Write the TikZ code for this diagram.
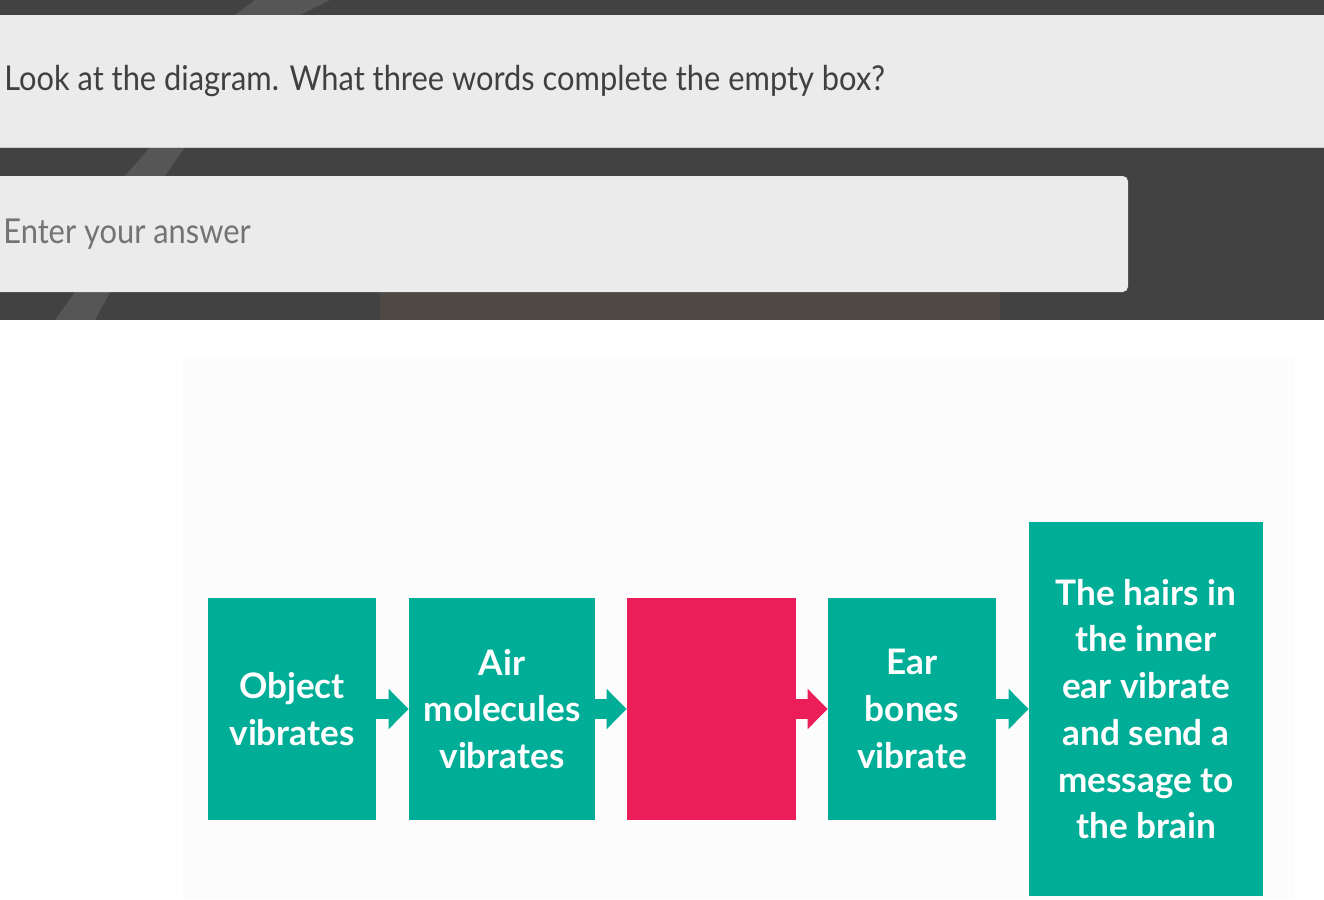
\documentclass[tikz,border=0pt]{standalone}
\usepackage{fontspec}
\setmainfont{Lato}
\newfontfamily\quizfont[FakeStretch=0.9]{Lato}
\usetikzlibrary{arrows.meta,positioning}

\definecolor{stepteal}{RGB}{0,174,151}
\definecolor{steppink}{RGB}{236,30,90}
\definecolor{bardark}{RGB}{66,66,66}
\definecolor{barlight}{RGB}{235,235,235}
\definecolor{panel}{RGB}{252,252,252}

\tikzset{
  stepbox/.style={fill=stepteal,text=white,align=center,inner sep=0pt,
    font=\bfseries\fontsize{20}{26.6}\selectfont,minimum height=4.44cm},
  flow/.style={stepteal,line width=0.4cm,-{Triangle[width=0.78cm,length=0.4cm]}},
  quiztext/.style={anchor=base west,inner sep=0pt,font=\quizfont\fontsize{19.5}{24}\selectfont},
}

\begin{document}
\begin{tikzpicture}[x=0.02cm,y=-0.02cm]
		\clip (0,0) rectangle (1324,899);
		\fill[white] (0,0) rectangle (1324,899);
		% top part
		\fill[bardark] (0,0) rectangle (1324,320);
		\fill[gray!70,opacity=0.2] (255,0) -- (330,0) -- (300,15) -- (235,15) -- cycle;
		\fill[gray!70,opacity=0.2] (150,147) -- (185,147) -- (165,176) -- (125,176) -- cycle;
		\fill[gray!70,opacity=0.2] (75,292) -- (110,292) -- (95,320) -- (55,320) -- cycle;
		\fill[brown!60!gray,opacity=0.12] (380,292) rectangle (1000,320);
		\fill[barlight] (0,15) rectangle (1324,147);
		\draw[gray!40] (0,147) -- (1324,147);
		\node[quiztext,text=black!75] (question) at (4,90) {Look at the diagram. What three words complete the empty box?};
		\fill[barlight,rounded corners=3pt] (-10,176) rectangle (1128,292);
		\node[quiztext,text=black!55] (answer) at (3,243) {Enter your answer};
		% diagram
		\fill[panel] (183,358) rectangle (1295,899);
		\node[stepbox,minimum width=3.36cm] (object) at (292,709) {Object\\vibrates};
		\node[stepbox,minimum width=3.72cm] (air) at (502,709) {Air\\molecules\\vibrates};
		\node[stepbox,fill=steppink,minimum width=3.38cm] (empty) at (711.5,709) {};
		\node[stepbox,minimum width=3.36cm] (bones) at (912,709) {Ear\\bones\\vibrate};
		\node[stepbox,minimum width=4.68cm,minimum height=7.48cm] (hairs) at (1146,709) {The hairs in\\the inner\\ear vibrate\\and send a\\message to\\the brain};
		\draw[flow] (object) -- (air);
		\draw[flow] (air) -- (empty);
		\draw[flow,steppink] (empty) -- (bones);
		\draw[flow] (bones) -- (hairs);
\end{tikzpicture}
\end{document}
